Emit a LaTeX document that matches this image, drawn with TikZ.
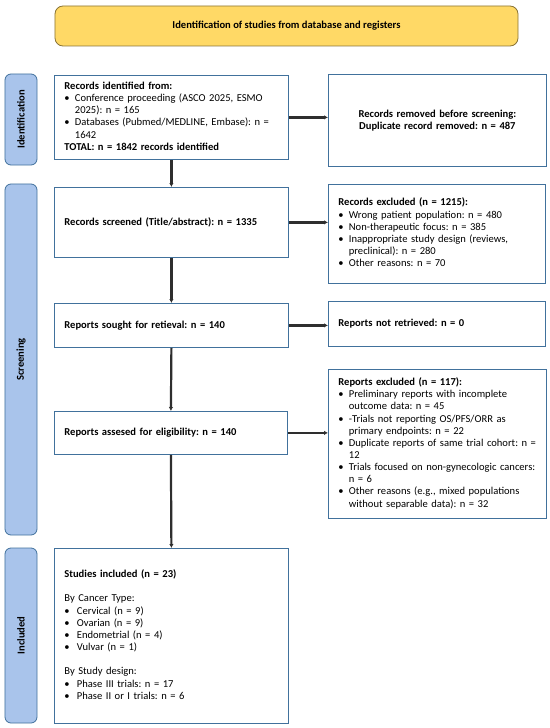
\documentclass[tikz,border=0pt]{standalone}
\usepackage{fontspec}
\setmainfont{Carlito}
\usetikzlibrary{arrows.meta}
\definecolor{boxc}{HTML}{41719C}
\definecolor{sidefill}{HTML}{A9C4EB}
\definecolor{yel}{HTML}{FFD966}
\definecolor{yelb}{HTML}{8A7436}
\definecolor{arr}{HTML}{2E2E2E}
\newcommand{\bl}{\makebox[10.5bp][l]{\textbullet}}
\newcommand{\ct}{\hspace*{10.5bp}}
\newcommand{\bli}{\makebox[12.5bp][l]{\textbullet}}
\frenchspacing
\begin{document}
\begin{tikzpicture}[x=1bp,y=-1bp,
  every node/.style={font=\fontsize{10.6}{12.2}\selectfont},
  flowbox/.style={draw=boxc, line width=0.8bp, fill=white, anchor=north west, inner xsep=10bp, inner ysep=2bp, align=left},
  sidelab/.style={draw=boxc, line width=0.8bp, fill=sidefill, rounded corners=6bp, rotate=90, minimum height=32bp, inner sep=0pt, font=\fontsize{10.6}{12}\selectfont\bfseries},
  flowarr/.style={draw=arr, line width=2.2bp, -{Latex[length=4bp,width=4.5bp]}}
]
\useasboundingbox (0,0) rectangle (550,728);
\node[draw=yelb, line width=0.8bp, fill=yel, rounded corners=8bp, minimum width=463bp, minimum height=40bp, font=\fontsize{10.6}{12}\selectfont\bfseries] (title) at (286.5,26) {Identification of studies from database and registers};

\node[sidelab, minimum width=91bp] (sid) at (21,119.5) {Identification};
\node[sidelab, minimum width=351bp] (sscr) at (21,359.5) {Screening};
\node[sidelab, minimum width=175bp] (sinc) at (21,635.5) {Included};

\node[flowbox, text width=214bp, minimum height=84bp] (ident) at (54,75) {\begin{tabular}{@{}l@{}}
\textbf{Records identified from:}\\
\bl Conference proceeding (ASCO 2025, ESMO\\
\ct 2025): n = 165\\
\bl Databases (Pubmed/MEDLINE, Embase): n =\\
\ct 1642\\
\textbf{TOTAL: n = 1842 records identified}
\end{tabular}};

\node[flowbox, text width=198bp, minimum height=92bp, align=center] (removed) at (328,74) {\textbf{Records removed before screening:}\\\textbf{Duplicate record removed: n = 487}};

\node[flowbox, text width=214bp, minimum height=70bp] (screened) at (54,187) {\textbf{Records screened (Title/abstract): n = 1335}};

\node[flowbox, text width=197bp, minimum height=99bp] (excl1) at (328,184) {\begin{tabular}{@{}l@{}}
\textbf{Records excluded (n = 1215):}\\
\bl Wrong patient population: n = 480\\
\bl Non-therapeutic focus: n = 385\\
\bl Inappropriate study design (reviews,\\
\ct preclinical): n = 280\\
\bl Other reasons: n = 70
\end{tabular}};

\node[flowbox, text width=214bp, minimum height=44bp] (sought) at (54,303) {\textbf{Reports sought for retieval: n = 140}};

\node[flowbox, text width=197bp, minimum height=45bp] (notret) at (328,301) {\textbf{Reports not retrieved: n = 0}};

\node[flowbox, text width=213bp, minimum height=43bp] (assessed) at (54,411) {\textbf{Reports assesed for eligibility: n = 140}};

\node[flowbox, text width=198bp, minimum height=149bp] (excl2) at (328,369) {\begin{tabular}{@{}l@{}}
\textbf{Reports excluded (n = 117):}\\
\bl Preliminary reports with incomplete\\
\ct outcome data: n = 45\\
\bl -Trials not reporting OS/PFS/ORR as\\
\ct primary endpoints: n = 22\\
\bl Duplicate reports of same trial cohort: n =\\
\ct 12\\
\bl Trials focused on non-gynecologic cancers:\\
\ct n = 6\\
\bl Other reasons (e.g., mixed populations\\
\ct without separable data): n = 32
\end{tabular}};

\node[flowbox, text width=214bp, minimum height=175bp] (incl) at (54,548) {\begin{tabular}{@{}l@{}}
\textbf{Studies included (n = 23)}\\[12.2bp]
By Cancer Type:\\
\bli Cervical (n = 9)\\
\bli Ovarian (n = 9)\\
\bli Endometrial (n = 4)\\
\bli Vulvar (n = 1)\\[12.2bp]
By Study design:\\
\bli Phase III trials: n = 17\\
\bli Phase II or I trials: n = 6
\end{tabular}};

\draw[flowarr] (ident.east) -- (ident.east -| removed.west);
\draw[flowarr] (screened.east) -- (screened.east -| excl1.west);
\draw[flowarr] (sought.east) -- (sought.east -| notret.west);
\draw[flowarr] (assessed.east) -- (assessed.east -| excl2.west);
\draw[flowarr] (ident.south) -- (screened.north);
\draw[flowarr] (screened.south) -- (sought.north);
\draw[flowarr] (sought.south) -- (assessed.north);
\draw[flowarr] (assessed.south) -- (incl.north);
\end{tikzpicture}
\end{document}
